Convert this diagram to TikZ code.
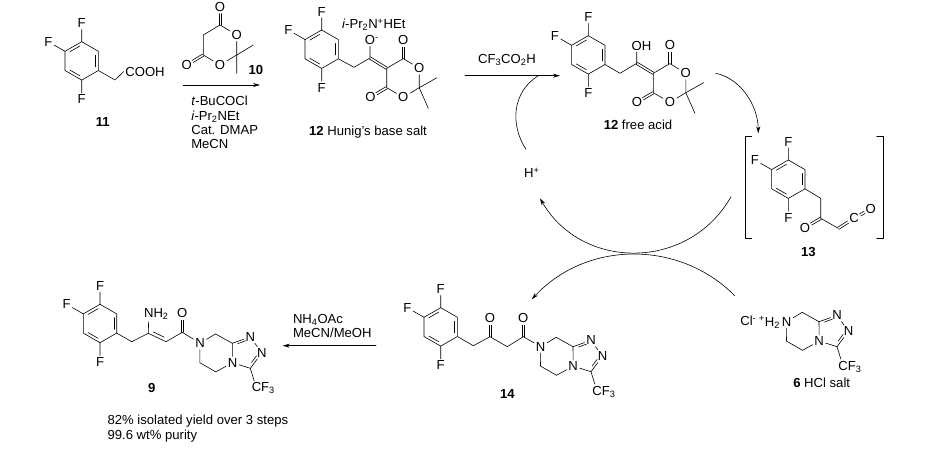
\documentclass[tikz,border=0pt]{standalone}
\usepackage{fontspec}
\setmainfont{Liberation Sans}
\usetikzlibrary{calc,arrows.meta}
\begin{document}
\begin{tikzpicture}[x=1pt, y=-1pt, font=\fontsize{13.1}{14.3}\selectfont, line width=0.6pt, line join=round, line cap=round, >={Stealth[length=7pt,width=4pt]},
        atom/.style={inner sep=1.5pt},
        txt/.style={inner sep=0pt, align=left}]
    \def\inbond#1#2#3#4{\draw ($(#2)!#1!(#3)!.17!(#4)$) -- ($(#3)!#1!(#2)!.17!(#4)$);}
    \def\dbond#1#2#3#4{
        \draw[shorten <=#3pt, shorten >=#4pt] ($(#1)!1.2pt!90:(#2)$) -- ($(#2)!1.2pt!-90:(#1)$);
        \draw[shorten <=#3pt, shorten >=#4pt] ($(#1)!1.2pt!-90:(#2)$) -- ($(#2)!1.2pt!90:(#1)$);}
    \def\arylring#1#2#3{
        \begin{scope}[shift={(#1,#2)}]
            \coordinate (#3t) at (0,0);
            \coordinate (#3ur) at (16.7,9.6);
            \coordinate (#3lr) at (16.7,28.8);
            \coordinate (#3b) at (0,38.4);
            \coordinate (#3ll) at (-16.7,28.8);
            \coordinate (#3ul) at (-16.7,9.6);
            \coordinate (#3mid) at (0,19.2);
            \node[atom] (#3fa) at (0,-18.5) {F};
            \node[atom] (#3fb) at (-33.4,0) {F};
            \node[atom] (#3fc) at (0,57.5) {F};
            \draw (#3t) -- (#3ur) -- (#3lr) -- (#3b) -- (#3ll) -- (#3ul) -- cycle;
            \draw (#3fa) -- (#3t) (#3fb) -- (#3ul) (#3fc) -- (#3b);
            \inbond{.14}{#3t}{#3ul}{#3mid}
            \inbond{.14}{#3ur}{#3lr}{#3mid}
            \inbond{.14}{#3b}{#3ll}{#3mid}
        \end{scope}}
    \def\dioxring#1#2#3{
        \begin{scope}[shift={(#1,#2)}]
            \coordinate (#3c) at (0,0);
            \coordinate (#3ca) at (16.6,-9.7);
            \node[atom] (#3oa) at (16.6,-28) {O};
            \node[atom] (#3ob) at (32.5,0) {O};
            \coordinate (#3m) at (32.5,19.4);
            \coordinate (#3ma) at (50.3,9.4);
            \coordinate (#3mb) at (41.6,40);
            \node[atom] (#3oc) at (16.6,29) {O};
            \coordinate (#3cb) at (0,19.4);
            \node[atom] (#3od) at (-16.3,29) {O};
            \draw (#3c) -- (#3ca) -- (#3ob) -- (#3m) -- (#3oc) -- (#3cb) -- (#3c);
            \draw (#3m) -- (#3ma) (#3m) -- (#3mb);
            \dbond{#3ca}{#3oa}{0}{7}
            \dbond{#3cb}{#3od}{0}{7}
        \end{scope}}
    \def\triazolo#1#2#3{
        \begin{scope}[shift={(#1,#2)}]
            \node[atom] (#3n) at (0,0) {N};
            \coordinate (#3a) at (15.5,-9.4);
            \coordinate (#3b) at (32.3,0);
            \node[atom] (#3na) at (50.3,-6.4) {N};
            \node[atom] (#3nb) at (61.8,9.6) {N};
            \coordinate (#3d) at (50.3,25);
            \node[atom] (#3nc) at (32.5,19.4) {N};
            \coordinate (#3e) at (15.8,28.6);
            \coordinate (#3f) at (-0.2,19.4);
            \coordinate (#3g) at (44,9.2);
            \node[atom] (#3cf) at (56.5,45) {C\rlap{F\textsubscript{3}}};
            \draw (#3n) -- (#3a) -- (#3b) -- (#3na) -- (#3nb) -- (#3d) -- (#3nc) -- (#3b);
            \draw (#3nc) -- (#3e) -- (#3f) -- (#3n);
            \draw (#3d) -- (#3cf);
            \inbond{.24}{#3b}{#3na}{#3g}
            \inbond{.24}{#3d}{#3nb}{#3g}
        \end{scope}}

    \useasboundingbox (0,0) rectangle (935,458);

    \arylring{81.7}{41.7}{k}
    \coordinate (kh) at (115,80);
    \node[atom] (kcooh) at (145,71.7) {COOH};
    \draw (klr) -- (kh) -- (kcooh.west);
    \node[atom] (klab) at (102.7,121.7) {\textbf{11}};

    \coordinate (ma) at (220,25);
    \coordinate (mb) at (203.3,35);
    \coordinate (mc) at (203.3,55);
    \coordinate (md) at (236.7,55);
    \coordinate (me) at (253.3,45);
    \coordinate (mf) at (236.7,73.3);
    \node[atom] (moa) at (220,6.7) {O};
    \node[atom] (mob) at (236.7,35) {O};
    \node[atom] (moc) at (220,65) {O};
    \node[atom] (mod) at (186.7,65) {O};
    \draw (mb) -- (ma) -- (mob) -- (md) -- (moc) -- (mc) -- (mb);
    \draw (md) -- (me) (md) -- (mf);
    \dbond{ma}{moa}{0}{7}
    \dbond{mc}{mod}{0}{7}
    \node[atom] (mlab) at (256,70) {\textbf{10}};

    \coordinate (ars) at (183.3,85);
    \coordinate (are) at (260,85);
    \draw[->] (ars) -- (are);
    \node[txt, anchor=north west] (arlab) at (191,96) {\textit{t}-BuCOCl\\\textit{i}-Pr\textsubscript{2}NEt\\Cat. DMAP\\MeCN};

    \arylring{321.7}{30}{s}
    \dioxring{386.7}{68.3}{p}
    \coordinate (sh) at (354,67.3);
    \coordinate (so) at (370,58);
    \node[atom] (soa) at (370,40) {O\rlap{\textsuperscript{-}}};
    \draw (slr) -- (sh) -- (so) -- (soa);
    \dbond{so}{pc}{0}{0}
    \node[txt, anchor=west] (sbase) at (341.7,25) {\textit{i}-Pr\textsubscript{2}N\textsuperscript{+}HEt};
    \node[atom] (slab) at (368,131.7) {\textbf{12} Hunig's base salt};

    \coordinate (brs) at (465,75.7);
    \coordinate (bre) at (560,75.7);
    \draw[->] (brs) -- (bre);
    \node[atom] (brlab) at (507,60) {CF\textsubscript{3}CO\textsubscript{2}H};

    \arylring{588.3}{35.7}{f}
    \dioxring{653.3}{73.3}{q}
    \coordinate (fh) at (620,73.3);
    \coordinate (fo) at (636.7,63.3);
    \node[atom] (foa) at (636.7,45.7) {O\rlap{H}};
    \draw (flr) -- (fh) -- (fo) -- (foa);
    \dbond{fo}{qc}{0}{0}
    \node[atom] (flab) at (638,125) {\textbf{12} free acid};

    \node[atom] (hplus) at (531.7,172.7) {H\textsuperscript{+}};
    \coordinate (ha) at (526,149.3);
    \coordinate (hb) at (538.3,75.7);
    \draw (ha) .. controls (510,125) and (512,92) .. (hb);
    \coordinate (fa) at (715.7,73.3);
    \coordinate (fb) at (758.3,133.3);
    \draw[->] (fa) .. controls (740,78) and (758,105) .. (fb);

    \arylring{788.3}{160}{c}
    \coordinate (ch) at (820.7,198.3);
    \coordinate (cc) at (820.7,218.3);
    \coordinate (cd) at (838.3,228.3);
    \node[atom] (coa) at (805,227.7) {O};
    \node[atom] (cce) at (854,218.3) {C};
    \node[atom] (cob) at (870.7,209) {O};
    \draw (clr) -- (ch) -- (cc) -- (cd);
    \dbond{cc}{coa}{0}{7}
    \dbond{cd}{cce}{0}{7}
    \dbond{cce}{cob}{7}{7}
    \node[atom] (clab) at (808.3,251.7) {\textbf{13}};
    \draw (751.7,136) -- (745,136) -- (745,238.7) -- (751.7,238.7);
    \draw (876.7,136) -- (883.3,136) -- (883.3,238.7) -- (876.7,238.7);

    \coordinate (ua) at (731,196.7);
    \coordinate (ub) at (540,198.3);
    \draw[->] (ua) .. controls (689,271) and (582,271) .. (ub);
    \coordinate (va) at (735,296);
    \coordinate (vb) at (531.7,299.3);
    \draw[->] (va) .. controls (680,240) and (587,240) .. (vb);

    \triazolo{786.7}{321.7}{g}
    \node[anchor=base east, inner sep=0pt] (ghy) at (gn.base west) {\textsuperscript{+}H\textsubscript{2}};
    \node[anchor=base, inner sep=0pt] (gcl) at (748.3,325.6) {Cl\textsuperscript{-}};
    \node[atom] (glab) at (821.7,382.7) {\textbf{6} HCl salt};

    \arylring{440.7}{307.7}{t}
    \triazolo{540.7}{346.7}{w}
    \coordinate (th) at (473.3,345.7);
    \coordinate (tc) at (490,336.7);
    \coordinate (td) at (507.3,346.7);
    \coordinate (te) at (523.3,336.7);
    \node[atom] (toa) at (490,318.3) {O};
    \node[atom] (tob) at (523.3,318.3) {O};
    \draw (tlr) -- (th) -- (tc) -- (td) -- (te) -- (wn);
    \dbond{tc}{toa}{0}{7}
    \dbond{te}{tob}{0}{7}
    \node[atom] (tlab) at (507.3,394) {\textbf{14}};

    \coordinate (nrs) at (376,345.7);
    \coordinate (nre) at (282.7,345.7);
    \draw[->] (nrs) -- (nre);
    \node[txt, anchor=north west] (nrlab) at (292.7,314) {NH\textsubscript{4}OAc\\MeCN/MeOH};

    \arylring{100}{304.3}{a}
    \triazolo{200}{343.3}{z}
    \coordinate (ah) at (131.7,341.7);
    \coordinate (ac) at (148.3,333.3);
    \coordinate (ad) at (166,341.7);
    \coordinate (ae) at (182.3,332.3);
    \coordinate (ag) at (166,320);
    \node[atom] (anh) at (148.8,314.3) {N\rlap{H\textsubscript{2}}};
    \node[atom] (aoa) at (182.3,313.3) {O};
    \draw (alr) -- (ah) -- (ac) -- (ad) -- (ae) -- (zn);
    \draw (ac) -- (anh);
    \inbond{.12}{ac}{ad}{ag}
    \dbond{ae}{aoa}{0}{7}
    \node[atom] (alab) at (151.7,388.3) {\textbf{9}};
    \node[txt, anchor=north west] (ayield) at (107.3,415) {82\% isolated yield over 3 steps\\99.6 wt\% purity};
\end{tikzpicture}
\end{document}
